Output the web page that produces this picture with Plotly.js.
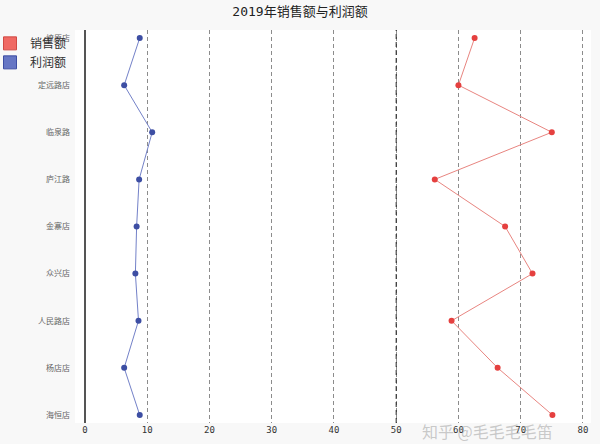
<!DOCTYPE html>
<html>
<head>
<meta charset="utf-8">
<script src="https://cdn.plot.ly/plotly-3.0.1.min.js"></script>
<style>
  html, body { margin: 0; padding: 0; background: #f8f8f8; }
  #chart { width: 600px; height: 444px; }
</style>
</head>
<body>
<div id="chart"></div>
<script>
// data ------------------------------------------------------------------------
const stores = ["燎原店", "定远路店", "临泉路", "庐江路", "金寨店", "众兴店", "人民路店", "杨店店", "海恒店"];
const sales = [62.6, 60.0, 75.0, 56.2, 67.5, 71.9, 58.9, 66.3, 75.1];
const profit = [8.8, 6.3, 10.8, 8.7, 8.3, 8.1, 8.6, 6.3, 8.8];
const xTicks = [0, 10, 20, 30, 40, 50, 60, 70, 80];
const refLine = 50;

const red = "#e5403f";
const blue = "#3d4ea3";

// traces ----------------------------------------------------------------------
var traceSales = {
	x: sales,
	y: stores,
	mode: "lines+markers",
	type: "scatter",
	line: { color: "#e88580", width: 1 },
	marker: { color: red, size: 6 },
	showlegend: false,
};

var traceProfit = {
	x: profit,
	y: stores,
	mode: "lines+markers",
	type: "scatter",
	line: { color: "#7381c8", width: 1 },
	marker: { color: blue, size: 6 },
	showlegend: false,
};

// legend-only entries, drawn as square patches
var legSales = {
	x: [null], y: [null], type: "scatter", mode: "markers", name: "销售额",
	marker: { symbol: "square", size: 13, color: "#f06a64", line: { color: "#d04a44", width: 1 } },
};
var legProfit = {
	x: [null], y: [null], type: "scatter", mode: "markers", name: "利润额",
	marker: { symbol: "square", size: 13, color: "#6676c4", line: { color: "#3d4ea3", width: 1 } },
};

var layout = {
	width: 600,
	height: 444,
	paper_bgcolor: "#f8f8f8",
	plot_bgcolor: "#ffffff",
	margin: { l: 75, r: 9, t: 30, b: 21, autoexpand: false },
	title: {
		text: "2019年销售额与利润额",
		x: 0.5,
		y: 0.975,
		yanchor: "middle",
		font: { family: "DejaVu Sans Mono, Noto Sans CJK SC", size: 13, color: "#222" },
	},
	xaxis: {
		range: [-1.6, 81.3],
		tickvals: xTicks,
		ticktext: xTicks.map(String),
		tickfont: { family: "DejaVu Sans Mono", size: 9, color: "#333" },
		showgrid: true,
		gridcolor: "#8c8c8c",
		griddash: "4px,3px",
		gridwidth: 1,
		zeroline: true,
		zerolinecolor: "#555",
		zerolinewidth: 1.5,
		showline: false,
		ticks: "",
		automargin: false,
		fixedrange: true,
	},
	yaxis: {
		type: "category",
		categoryorder: "array",
		categoryarray: stores,
		range: [8.17, -0.17],
		tickfont: { family: "Noto Sans CJK SC", size: 8, color: "#666" },
		showgrid: false,
		zeroline: false,
		showline: false,
		ticks: "",
		ticklabelstandoff: 4,
		automargin: false,
	},
	shapes: [
		{
			type: "line",
			xref: "x", yref: "paper",
			x0: refLine, x1: refLine, y0: 0, y1: 1,
			line: { color: "#222", width: 1, dash: "5px,3px" },
			layer: "above",
		},
	],
	legend: {
		xref: "container",
		yref: "container",
		x: 0,
		xanchor: "left",
		y: 0.935,
		yanchor: "top",
		indentation: -10,
		bgcolor: "rgba(0,0,0,0)",
		font: { family: "Noto Sans CJK SC", size: 12, color: "#333" },
		itemwidth: 30,
		tracegroupgap: 0,
	},
	annotations: [
		{
			text: "知乎 @毛毛毛毛笛",
			xref: "paper", yref: "paper",
			x: 0.93, y: -0.02,
			xanchor: "right", yanchor: "middle",
			showarrow: false,
			font: { family: "Noto Sans CJK SC", size: 16, color: "rgba(160,160,160,0.55)" },
		},
	],
};

Plotly.newPlot("chart", [traceSales, traceProfit, legSales, legProfit], layout, { displayModeBar: false });
</script>
</body>
</html>
